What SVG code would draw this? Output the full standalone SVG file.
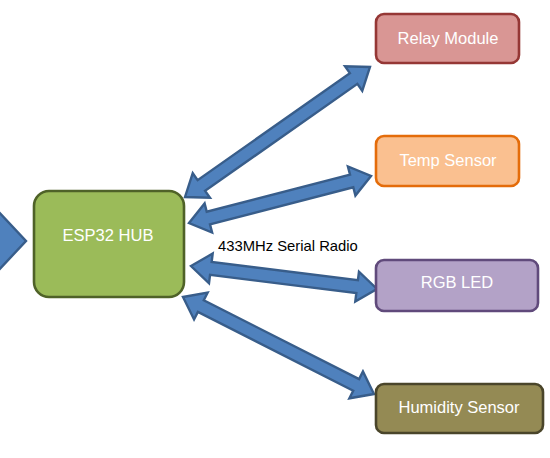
<svg xmlns="http://www.w3.org/2000/svg" width="550" height="458" viewBox="0 0 550 458">
<style>
.arr{fill:#4F81BD;stroke:#385D8A;stroke-width:2.4;stroke-linejoin:miter}
.box{stroke-width:2.6}
.t{font-family:"Liberation Sans",Arial,sans-serif;font-size:16.5px;fill:#FFFFFF;text-anchor:middle}
.lbl{font-family:"Liberation Sans",Arial,sans-serif;font-size:14.8px;fill:#000000}
</style>
<rect width="550" height="458" fill="#FFFFFF"/>
<g id="connectors">
<polygon class="arr" points="-5,208 26,241 -5,274"/>
<g transform="translate(185,197) rotate(-35.1)">
<polygon class="arr" points="0,0 20,-15 20,-6.5 206.1,-6.5 206.1,-15 226.1,0 206.1,15 206.1,6.5 20,6.5 20,15"/>
</g>
<g transform="translate(189,223) rotate(-14.48)">
<polygon class="arr" points="0,0 20,-15 20,-6.5 168,-6.5 168,-15 188,0 168,15 168,6.5 20,6.5 20,15"/>
</g>
<g transform="translate(191,266) rotate(7.05)">
<polygon class="arr" points="0,0 20,-15 20,-6.5 167.4,-6.5 167.4,-15 187.4,0 167.4,15 167.4,6.5 20,6.5 20,15"/>
</g>
<g transform="translate(183,297) rotate(26.92)">
<polygon class="arr" points="0,0 20,-15 20,-6.5 194.2,-6.5 194.2,-15 214.2,0 194.2,15 194.2,6.5 20,6.5 20,15"/>
</g>
<text class="lbl" x="218" y="251">433MHz Serial Radio</text>
</g>
<g id="esp32">
<rect class="box" x="34" y="191" width="150" height="106" rx="15" fill="#9BBB59" stroke="#4F6228"/>
<text class="t" x="108" y="241">ESP32 HUB</text>
</g>
<g id="relay">
<rect class="box" x="376" y="14" width="143" height="49" rx="8" fill="#D99694" stroke="#953735"/>
<text class="t" x="448" y="44">Relay Module</text>
</g>
<g id="temp">
<rect class="box" x="376" y="136" width="143" height="50" rx="8" fill="#FAC090" stroke="#E46C0A"/>
<text class="t" x="448" y="166">Temp Sensor</text>
</g>
<g id="rgb">
<rect class="box" x="376" y="260" width="162" height="51" rx="8" fill="#B3A2C7" stroke="#604A7B"/>
<text class="t" x="457" y="288">RGB LED</text>
</g>
<g id="humidity">
<rect class="box" x="376" y="384" width="167" height="49" rx="8" fill="#948A54" stroke="#4A452A"/>
<text class="t" x="459" y="413">Humidity Sensor</text>
</g>
</svg>
